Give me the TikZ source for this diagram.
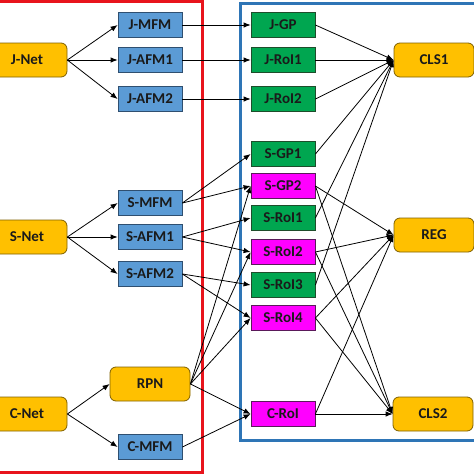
\documentclass[tikz,border=0pt]{standalone}
\usepackage{fontspec}
\setmainfont{Carlito}
\usepackage{tikz}
\usetikzlibrary{positioning}
\usetikzlibrary{arrows.meta}

\definecolor{amarillo}{HTML}{FFC000}
\definecolor{amarilloborde}{HTML}{7F6000}
\definecolor{azul}{HTML}{5B9BD5}
\definecolor{azulborde}{HTML}{2F4F70}
\definecolor{verde}{HTML}{00A650}
\definecolor{verdeborde}{HTML}{1E4D2B}
\definecolor{rosa}{HTML}{FF00FF}
\definecolor{rosaborde}{HTML}{5A1A5A}
\definecolor{marcorojo}{HTML}{E8141C}
\definecolor{marcoazul}{HTML}{2E75B6}
\definecolor{texto}{HTML}{1A1A1A}

\begin{document}
\begin{tikzpicture}[x=1pt, y=-1pt,
    every node/.style={draw, line width=0.8pt, text=texto,
      font=\bfseries\fontsize{15}{18}\selectfont},
    red/.style={fill=amarillo, draw=amarilloborde, rounded corners=6pt,
      minimum width=80pt, minimum height=34pt},
    mapa/.style={fill=azul, draw=azulborde, minimum width=64pt, minimum height=25pt},
    roiv/.style={fill=verde, draw=verdeborde, minimum width=64pt, minimum height=25pt},
    roim/.style={fill=rosa, draw=rosaborde, minimum width=64pt, minimum height=25pt},
    flecha/.style={-{Latex[length=7pt,width=5.5pt]}, line width=0.8pt}]
  \useasboundingbox (0,0) rectangle (474,474);

  % Marcos
  \draw[marcorojo, line width=3pt] (-10,1.5) rectangle (202,472);
  \draw[marcoazul, line width=3pt] (240,3) rectangle (490,440);

  % Nodos
  \node[red] (jnet) at (27,60) {J-Net};
  \node[red] (snet) at (27,237) {S-Net};
  \node[red] (cnet) at (27,414) {C-Net};

  \node[mapa] (jmfm) at (150,25) {J-MFM};
  \node[mapa] (jafm1) at (150,60) {J-AFM1};
  \node[mapa] (jafm2) at (150,99) {J-AFM2};
  \node[mapa] (smfm) at (150,203) {S-MFM};
  \node[mapa] (safm1) at (150,237) {S-AFM1};
  \node[mapa] (safm2) at (150,274) {S-AFM2};
  \node[red] (rpn) at (150,384) {RPN};
  \node[mapa] (cmfm) at (150,447) {C-MFM};

  \node[roiv] (jgp) at (283,25) {J-GP};
  \node[roiv] (jroi1) at (283,60) {J-RoI1};
  \node[roiv] (jroi2) at (283,99) {J-RoI2};
  \node[roiv] (sgp1) at (283,154) {S-GP1};
  \node[roim] (sgp2) at (283,186) {S-GP2};
  \node[roiv] (sroi1) at (283,218) {S-RoI1};
  \node[roim] (sroi2) at (283,252) {S-RoI2};
  \node[roiv] (sroi3) at (283,285) {S-RoI3};
  \node[roim] (sroi4) at (283,318) {S-RoI4};
  \node[roim] (croi) at (283,414) {C-RoI};

  \node[red] (cls1) at (434,60) {CLS1};
  \node[red] (reg) at (434,235) {REG};
  \node[red] (cls2) at (433,414) {CLS2};

  % Aristas
  \draw[flecha] (jnet.east) -- (jmfm.west);
  \draw[flecha] (jnet.east) -- (jafm1.west);
  \draw[flecha] (jnet.east) -- (jafm2.west);
  \draw[flecha] (snet.east) -- (smfm.west);
  \draw[flecha] (snet.east) -- (safm1.west);
  \draw[flecha] (snet.east) -- (safm2.west);
  \draw[flecha] (cnet.east) -- (rpn.west);
  \draw[flecha] (cnet.east) -- (cmfm.west);

  \draw[flecha] (jmfm.east) -- (jgp.west);
  \draw[flecha] (jafm1.east) -- (jroi1.west);
  \draw[flecha] (jafm2.east) -- (jroi2.west);
  \draw[flecha] (smfm.east) -- (sgp1.west);
  \draw[flecha] (smfm.east) -- (sgp2.west);
  \draw[flecha] (safm1.east) -- (sroi1.west);
  \draw[flecha] (safm1.east) -- (sroi2.west);
  \draw[flecha] (safm2.east) -- (sroi3.west);
  \draw[flecha] (safm2.east) -- (sroi4.west);
  \draw[flecha] (rpn.east) -- (sgp2.west);
  \draw[flecha] (rpn.east) -- (sroi2.west);
  \draw[flecha] (rpn.east) -- (sroi4.west);
  \draw[flecha] (rpn.east) -- (croi.west);
  \draw[flecha] (cmfm.east) -- (croi.west);

  \draw[flecha] (jgp.east) -- (cls1.west);
  \draw[flecha] (jroi1.east) -- (cls1.west);
  \draw[flecha] (jroi2.east) -- (cls1.west);
  \draw[flecha] (sgp1.east) -- (cls1.west);
  \draw[flecha] (sroi1.east) -- (cls1.west);
  \draw[flecha] (sroi3.east) -- (cls1.west);
  \draw[flecha] (sgp2.east) -- (reg.west);
  \draw[flecha] (sroi2.east) -- (reg.west);
  \draw[flecha] (sroi4.east) -- (reg.west);
  \draw[flecha] (croi.east) -- (reg.west);
  \draw[flecha] (sgp2.east) -- (cls2.west);
  \draw[flecha] (sroi2.east) -- (cls2.west);
  \draw[flecha] (sroi4.east) -- (cls2.west);
  \draw[flecha] (croi.east) -- (cls2.west);
\end{tikzpicture}
\end{document}
